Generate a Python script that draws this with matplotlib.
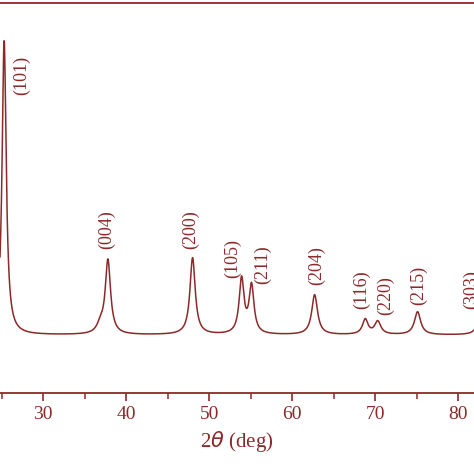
import numpy as np
import matplotlib.pyplot as plt

plt.rcParams['font.family'] = ['Liberation Serif', 'DejaVu Serif']
red = '#8b2a2a'

# peak positions (deg), heights and half widths
peak_pos = [25.3, 36.9, 37.8, 48.0, 53.9, 55.1, 62.7, 68.8, 70.3, 75.1, 82.7]
peak_h = [295, 8, 74, 77, 55, 48, 40, 15, 13, 23, 20]
peak_w = [0.3, 0.5, 0.38, 0.38, 0.35, 0.35, 0.42, 0.4, 0.45, 0.45, 0.45]
baseline = 58

labels = ['(101)', '(004)', '(200)', '(105)', '(211)', '(204)', '(116)', '(220)', '(215)', '(303)']
label_x = [27.4, 37.7, 47.7, 52.8, 56.4, 62.9, 68.4, 71.3, 75.2, 81.6]
label_y = [318, 163, 163, 135, 128, 128, 103, 97, 108, 103]

x = np.linspace(24.8, 82, 2000)
y = np.full_like(x, baseline, dtype=float)
for p, h, w in zip(peak_pos, peak_h, peak_w):
    y += h / (1 + ((x - p) / w) ** 2)

fig = plt.figure(figsize=(4.74, 4.74), dpi=100)
ax = fig.add_axes([0, 0.171, 1.0, 0.822])
ax.plot(x, y, color=red, lw=1.1)
for t, lx, ly in zip(labels, label_x, label_y):
    ax.text(lx, ly, t, rotation=90, ha='center', va='center', color=red, fontsize=13)
ax.set_xlim(24.8, 81.9)
ax.set_ylim(0, 390)
ax.set_xticks([30, 40, 50, 60, 70, 80])
ax.set_xticks(np.arange(25, 82, 5), minor=True)
ax.set_yticks([])
for s in ['left', 'right']:
    ax.spines[s].set_visible(False)
for s in ['top', 'bottom']:
    ax.spines[s].set_color(red)
    ax.spines[s].set_linewidth(1.3)
ax.tick_params(axis='x', colors=red, labelsize=14, length=6, width=1.2, labelcolor=red)
ax.tick_params(axis='x', which='minor', colors=red, length=4, width=1.1)
ax.set_xlabel(r'2$\theta$ (deg)', color=red, fontsize=15)
fig.savefig('out.png', dpi=100)
